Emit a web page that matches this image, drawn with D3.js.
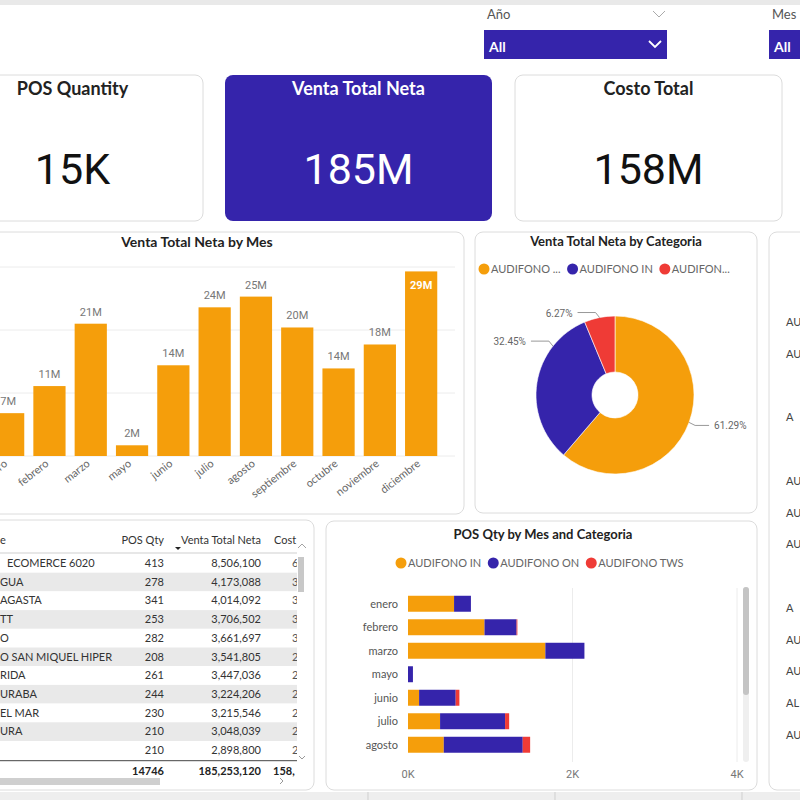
<!DOCTYPE html>
<html>
<head>
<meta charset="utf-8">
<script src="https://cdn.jsdelivr.net/npm/d3@7"></script>
<style>
  body { margin: 0; background: #fff; }
  svg { display: block; font-family: 'Lato', 'Noto Sans', sans-serif; }
</style>
</head>
<body>
<script>
/* global d3 */

// ---- data ----
const kpiTitles = ['POS Quantity', 'Venta Total Neta', 'Costo Total']
const kpiValues = ['15K', '185M', '158M']

const months = ['enero', 'febrero', 'marzo', 'mayo', 'junio', 'julio', 'agosto', 'septiembre', 'octubre', 'noviembre', 'diciembre']
const ventaMes = [6.8, 11.1, 21.0, 1.7, 14.4, 23.6, 25.3, 20.4, 13.9, 17.7, 29.3] // millions
const ventaTicks = [0, 10, 20, 30]

const donutLegend = ['AUDIFONO ...', 'AUDIFONO IN', 'AUDIFON...']
const donutShare = [61.29, 32.45, 6.27]

const tableHeader = ['e', 'POS Qty', 'Venta Total Neta', 'Cost']
const tableNames = ['ECOMERCE 6020', 'GUA', 'AGASTA', 'TT', 'O', 'O SAN MIQUEL HIPER', 'RIDA', 'URABA', 'EL MAR', 'URA', '']
const tablePos = [413, 278, 341, 253, 282, 208, 261, 244, 230, 210, 210]
const tableVenta = [8506100, 4173088, 4014092, 3706502, 3661697, 3541805, 3447036, 3224206, 3215546, 3048039, 2898800]
const tableCost = ['6', '3', '3', '3', '3', '2', '2', '2', '2', '2', '2']
const totalPos = 14746
const totalVenta = 185253120
const totalCost = '158,'

const stackMonths = ['enero', 'febrero', 'marzo', 'mayo', 'junio', 'julio', 'agosto']
const stackCats = ['AUDIFONO IN', 'AUDIFONO ON', 'AUDIFONO TWS']
const posIn = [560, 930, 1670, 0, 135, 390, 435]
const posOn = [205, 390, 475, 60, 445, 790, 960]
const posTws = [0, 10, 0, 0, 45, 50, 90]
const posTicks = [0, 2000, 4000]

const sideLabels = ['', 'AU', 'AU', '', 'A', '', 'AU', 'AU', 'AU', '', 'A', 'AU', 'AU', 'AL', 'AU']

// ---- look ----
const ORANGE = '#F59E0B'
const INDIGO = '#3524AB'
const RED = '#EF3B36'
const GRID = '#ececec'
const BORDER = '#dcdcdc'
const catColors = [ORANGE, INDIGO, RED]

const svg = d3.select('body').append('svg').attr('width', 800).attr('height', 800)

// page chrome
svg.append('rect').attr('x', 0).attr('y', 0).attr('width', 800).attr('height', 5).attr('fill', '#e9e9e9')
svg.append('rect').attr('x', 0).attr('y', 792).attr('width', 800).attr('height', 8).attr('fill', '#eeeeee')
;[368, 555, 742].forEach(x => svg.append('line').attr('x1', x).attr('x2', x).attr('y1', 792).attr('y2', 800).attr('stroke', '#cfcfcf'))

function panel (x, y, w, h, fill) {
  return svg.append('rect').attr('x', x).attr('y', y).attr('width', w).attr('height', h)
    .attr('rx', 8).attr('fill', fill || '#fff').attr('stroke', fill ? 'none' : BORDER)
}

function chevron (g, x, y, color, sw, up) {
  const d = up ? `M${x - 4},${y + 2}L${x},${y - 2}L${x + 4},${y + 2}` : `M${x - 6},${y - 3}L${x},${y + 3}L${x + 6},${y - 3}`
  g.append('path').attr('d', d).attr('fill', 'none').attr('stroke', color).attr('stroke-width', sw)
}

// ---- slicers ----
const slicers = [{ label: 'Año', x: 484, w: 183 }, { label: 'Mes', x: 769, w: 60 }]
slicers.forEach(s => {
  const g = svg.append('g')
  g.append('text').attr('x', s.x + 3).attr('y', 19).attr('font-size', 13).attr('fill', '#555').text(s.label)
  g.append('rect').attr('x', s.x).attr('y', 30).attr('width', s.w).attr('height', 29).attr('fill', INDIGO)
  g.append('text').attr('x', s.x + 5).attr('y', 52).attr('font-size', 14).attr('font-weight', 700)
    .attr('fill', '#fff').text('All')
  if (s.w > 100) {
    chevron(g, s.x + s.w - 12, 44, '#fff', 1.8)
    chevron(g, s.x + s.w - 8, 14, '#aaa', 1)
  }
})

// ---- KPI cards ----
const cards = [{ x: -58, w: 261 }, { x: 225, w: 267 }, { x: 515, w: 267 }]
cards.forEach((c, i) => {
  const dark = i === 1
  panel(c.x, 75, c.w, 146, dark ? INDIGO : null)
  svg.append('text').attr('x', c.x + c.w / 2).attr('y', 95).attr('text-anchor', 'middle')
    .attr('font-size', 18).attr('font-weight', 700).attr('fill', dark ? '#fff' : '#222').text(kpiTitles[i])
  svg.append('text').attr('x', c.x + c.w / 2).attr('y', 184).attr('text-anchor', 'middle')
    .attr('font-family', 'Roboto, sans-serif').attr('font-size', 43)
    .attr('fill', dark ? '#fff' : '#111').text(kpiValues[i])
})

// ---- Venta Total Neta by Mes ----
panel(-10, 232, 474, 282)
svg.append('text').attr('x', 197).attr('y', 247).attr('text-anchor', 'middle')
  .attr('font-size', 14).attr('font-weight', 700).attr('fill', '#222').text('Venta Total Neta by Mes')

const xMes = d3.scaleBand().domain(months).range([-12.5, 441.8]).paddingInner(0.22).paddingOuter(0.11)
const yMes = d3.scaleLinear().domain([0, 30]).range([456, 267])

const gMes = svg.append('g')
gMes.selectAll('line.grid').data(ventaTicks).join('line')
  .attr('x1', 0).attr('x2', 455).attr('y1', d => yMes(d)).attr('y2', d => yMes(d))
  .attr('stroke', GRID)
gMes.selectAll('rect.bar').data(ventaMes).join('rect')
  .attr('x', (d, i) => xMes(months[i])).attr('width', xMes.bandwidth())
  .attr('y', d => yMes(d)).attr('height', d => yMes(0) - yMes(d)).attr('fill', ORANGE)
const maxMes = d3.max(ventaMes)
gMes.selectAll('text.val').data(ventaMes).join('text')
  .attr('x', (d, i) => xMes(months[i]) + xMes.bandwidth() / 2)
  .attr('y', d => d === maxMes ? yMes(d) + 18 : yMes(d) - 8)
  .attr('text-anchor', 'middle').attr('font-family', 'Roboto, sans-serif').attr('font-size', 11)
  .attr('font-weight', d => d === maxMes ? 700 : 400)
  .attr('fill', d => d === maxMes ? '#fff' : '#777')
  .text(d => d3.format('.0f')(d) + 'M')
gMes.selectAll('text.month').data(months).join('text')
  .attr('transform', d => `translate(${xMes(d) + xMes.bandwidth() / 2},${465}) rotate(-38)`)
  .attr('text-anchor', 'end').attr('font-size', 11).attr('fill', '#666').text(d => d)

// ---- Venta Total Neta by Categoria ----
panel(475, 232, 282, 281)
svg.append('text').attr('x', 616).attr('y', 246).attr('text-anchor', 'middle')
  .attr('font-size', 13).attr('font-weight', 700).attr('fill', '#222').text('Venta Total Neta by Categoria')

const legD = svg.append('g')
let lx = 484
donutLegend.forEach((t, i) => {
  legD.append('circle').attr('cx', lx).attr('cy', 269).attr('r', 5.5).attr('fill', catColors[i])
  const tx = legD.append('text').attr('x', lx + 7).attr('y', 273).attr('font-size', 11).attr('fill', '#666').text(t)
  lx += 7 + tx.node().getComputedTextLength() + 12
})

const cx = 615
const cy = 395
const rOut = 79
const pie = d3.pie().sort(null).value(d => d)(donutShare)
const arc = d3.arc().innerRadius(23).outerRadius(rOut)
const gD = svg.append('g').attr('transform', `translate(${cx},${cy})`)
gD.selectAll('path').data(pie).join('path').attr('d', arc).attr('fill', (d, i) => catColors[i])
  .attr('stroke', '#fff').attr('stroke-width', 0.6)
pie.forEach((p, i) => {
  // leader sits part way along the slice (Power BI pushes left-side labels up)
  const a = p.startAngle + (p.endAngle - p.startAngle) * (i === 1 ? 0.75 : 0.5)
  const p0 = [Math.sin(a) * rOut, -Math.cos(a) * rOut]
  const right = Math.sin(a) > 0
  const p1 = [p0[0] + (right ? 6 : -4), p0[1] - (right ? -3 : 5)]
  const p2 = [p1[0] + (right ? 14 : -18), p1[1]]
  gD.append('polyline').attr('points', [p0, p1, p2].map(q => q.join(',')).join(' '))
    .attr('fill', 'none').attr('stroke', '#999')
  gD.append('text').attr('x', p2[0] + (right ? 5 : -5)).attr('y', p2[1] + 4)
    .attr('text-anchor', right ? 'start' : 'end').attr('font-family', 'Roboto, sans-serif')
    .attr('font-size', 10).attr('fill', '#666').text(d3.format('.2f')(donutShare[i]) + '%')
})

// ---- side panel (cut off) ----
panel(769, 232, 60, 558)
const ySide = d3.scalePoint().domain(d3.range(sideLabels.length)).range([290, 735])
svg.selectAll('text.side').data(sideLabels).join('text')
  .attr('x', 786).attr('y', (d, i) => ySide(i) + 4).attr('font-size', 11).attr('fill', '#444').text(d => d)

// ---- table ----
panel(-10, 520, 324, 270)
svg.append('clipPath').attr('id', 'tclip').append('rect').attr('x', 0).attr('y', 520).attr('width', 297).attr('height', 270)
const gT = svg.append('g').attr('clip-path', 'url(#tclip)')
const colRight = [null, 164, 261, null]
const rowH = 18.7
const yRow = i => 554 + i * rowH
tableNames.forEach((n, i) => {
  gT.append('rect').attr('x', 0).attr('y', yRow(i)).attr('width', 297).attr('height', rowH)
    .attr('fill', i % 2 ? '#e9e9e9' : '#fff')
  const ty = yRow(i) + 13
  gT.append('text').attr('x', i === 0 ? 7 : 0).attr('y', ty).attr('font-size', 11).attr('fill', '#333').text(n)
  gT.append('text').attr('x', colRight[1]).attr('y', ty).attr('text-anchor', 'end').attr('font-size', 11).attr('fill', '#333').text(tablePos[i])
  gT.append('text').attr('x', colRight[2]).attr('y', ty).attr('text-anchor', 'end').attr('font-size', 11).attr('fill', '#333').text(d3.format(',')(tableVenta[i]))
  gT.append('text').attr('x', 292).attr('y', ty).attr('font-size', 11).attr('fill', '#555').text(tableCost[i])
})
gT.append('text').attr('x', 0).attr('y', 544).attr('font-size', 11).attr('fill', '#333').text(tableHeader[0])
gT.append('text').attr('x', colRight[1]).attr('y', 544).attr('text-anchor', 'end').attr('font-size', 11).attr('fill', '#333').text(tableHeader[1])
gT.append('text').attr('x', colRight[2]).attr('y', 544).attr('text-anchor', 'end').attr('font-size', 11).attr('fill', '#333').text(tableHeader[2])
gT.append('text').attr('x', 274).attr('y', 544).attr('font-size', 11).attr('fill', '#333').text(tableHeader[3])
gT.append('path').attr('d', 'M175,547L181,547L178,550Z').attr('fill', '#222')
gT.append('line').attr('x1', 0).attr('x2', 297).attr('y1', 553).attr('y2', 553).attr('stroke', '#cfcfcf')
const yTot = yRow(tableNames.length) + 1
gT.append('line').attr('x1', 0).attr('x2', 297).attr('y1', yTot).attr('y2', yTot).attr('stroke', '#444')
gT.append('text').attr('x', colRight[1]).attr('y', yTot + 14).attr('text-anchor', 'end').attr('font-size', 11).attr('font-weight', 700).attr('fill', '#222').text(totalPos)
gT.append('text').attr('x', colRight[2]).attr('y', yTot + 14).attr('text-anchor', 'end').attr('font-size', 11).attr('font-weight', 700).attr('fill', '#222').text(d3.format(',')(totalVenta))
gT.append('text').attr('x', 273).attr('y', yTot + 14).attr('font-size', 11).attr('font-weight', 700).attr('fill', '#222').text(totalCost)
// scrollbars
svg.append('rect').attr('x', 298).attr('y', 557).attr('width', 6).attr('height', 35).attr('fill', '#c8c8c8')
chevron(svg, 302, 546, '#999', 0.9, true)
svg.append('path').attr('d', 'M299,756L302,759L305,756').attr('fill', 'none').attr('stroke', '#999')
svg.append('rect').attr('x', 0).attr('y', 778).attr('width', 160).attr('height', 7).attr('fill', '#cfcfcf')
svg.append('path').attr('d', 'M280,778L283,781L280,784').attr('fill', 'none').attr('stroke', '#999')

// ---- POS Qty by Mes and Categoria ----
panel(326, 521, 431, 269)
svg.append('text').attr('x', 543).attr('y', 539).attr('text-anchor', 'middle')
  .attr('font-size', 13).attr('font-weight', 700).attr('fill', '#222').text('POS Qty by Mes and Categoria')

const legS = svg.append('g')
let sx = 401
stackCats.forEach((t, i) => {
  legS.append('circle').attr('cx', sx).attr('cy', 563).attr('r', 5.5).attr('fill', catColors[i])
  const tx = legS.append('text').attr('x', sx + 7).attr('y', 567).attr('font-size', 11).attr('fill', '#666').text(t)
  sx += 7 + tx.node().getComputedTextLength() + 12
})

const rows = stackMonths.map((m, i) => ({ mes: m, in: posIn[i], on: posOn[i], tws: posTws[i] }))
const series = d3.stack().keys(['in', 'on', 'tws'])(rows)
const xPos = d3.scaleLinear().domain([0, 4000]).range([408, 737])
const yPos = d3.scaleBand().domain(stackMonths).range([592, 756.5]).paddingInner(0.32).paddingOuter(0.16)

const gS = svg.append('g')
gS.selectAll('line.grid').data(posTicks.slice(1)).join('line')
  .attr('x1', d => xPos(d)).attr('x2', d => xPos(d)).attr('y1', 588).attr('y2', 762).attr('stroke', GRID)
gS.selectAll('g.s').data(series).join('g').attr('fill', (d, i) => catColors[i])
  .selectAll('rect').data(d => d).join('rect')
  .attr('x', d => xPos(d[0])).attr('width', d => xPos(d[1]) - xPos(d[0]))
  .attr('y', d => yPos(d.data.mes)).attr('height', yPos.bandwidth())
gS.selectAll('text.m').data(stackMonths).join('text')
  .attr('x', 398).attr('y', d => yPos(d) + yPos.bandwidth() / 2 + 4).attr('text-anchor', 'end')
  .attr('font-size', 11).attr('fill', '#555').text(d => d)
gS.selectAll('text.t').data(posTicks).join('text')
  .attr('x', d => xPos(d)).attr('y', 778).attr('text-anchor', 'middle')
  .attr('font-family', 'Roboto, sans-serif').attr('font-size', 11).attr('fill', '#777').text(d => d / 1000 + 'K')
// scrollbar
svg.append('rect').attr('x', 743).attr('y', 587).attr('width', 6).attr('height', 175).attr('rx', 3).attr('fill', '#efefef')
svg.append('rect').attr('x', 743).attr('y', 587).attr('width', 6).attr('height', 108).attr('rx', 3).attr('fill', '#c4c4c4')
</script>
</body>
</html>
